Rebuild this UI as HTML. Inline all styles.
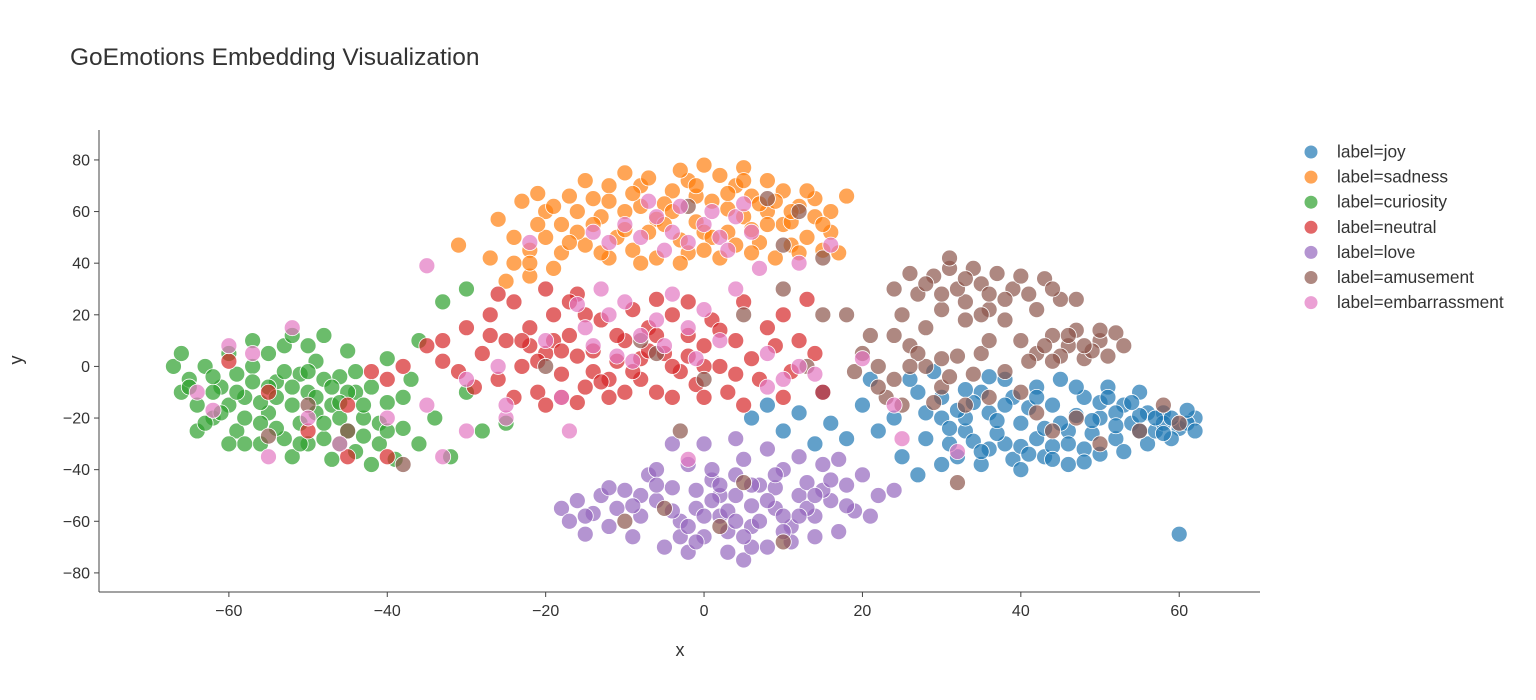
<!DOCTYPE html>
<html><head><meta charset="utf-8"><style>
body{margin:0;background:#fff;font-family:"Liberation Sans",Arial,sans-serif;}
svg text{font-family:"Liberation Sans",Arial,sans-serif;fill:#2a3f5f;}
</style></head><body>
<svg id="chart" width="1536" height="695">
<rect width="1536" height="695" fill="#fff"/>
<text x="70" y="65" font-size="24.5" fill="#333" style="fill:#333">GoEmotions Embedding Visualization</text>
<g id="plot"></g>
<g id="axes"></g>
<g id="legend"></g>
<text x="680" y="656" font-size="18" text-anchor="middle" style="fill:#333">x</text>
<text x="22" y="360" font-size="18" text-anchor="middle" transform="rotate(-90 22 360)" style="fill:#333">y</text>
</svg>
<script>
const labels = ["joy","sadness","curiosity","neutral","love","amusement","embarrassment"];
const colors = ["#1f77b4","#ff7f0e","#2ca02c","#d62728","#9467bd","#8c564b","#e377c2"];
const xTicks = [-60,-40,-20,0,20,40,60];
const yTicks = [-80,-60,-40,-20,0,20,40,60,80];
const joy = [30,-20,33,-25,36,-18,38,-30,40,-22,42,-28,44,-15,46,-25,48,-32,50,-20,52,-28,54,-22,56,-30,58,-18,60,-24,62,-20,35,-10,38,-5,42,-8,45,-5,48,-12,51,-8,53,-15,55,-10,57,-25,59,-28,61,-22,32,-35,35,-38,39,-36,43,-35,46,-38,50,-34,53,-33,27,-10,28,-28,30,-38,31,-30,34,-14,37,-26,41,-16,44,-31,47,-19,49,-26,52,-18,55,-25,58,-22,24,-20,22,-25,20,-15,18,-28,16,-22,14,-30,12,-18,10,-25,8,-15,6,-20,25,-35,27,-42,26,-5,21,-5,15,-10,28,-18,29,-2,40,-40,60,-65,36,-32,45,-22,42,-12,39,-12,33,-20,50,-14,56,-18,
 31,-24,34,-29,37,-21,40,-31,43,-24,46,-30,49,-21,52,-23,55,-19,58,-26,61,-17,33,-9,36,-4,47,-8,54,-14,57,-20,44,-36,41,-34,38,-15,35,-33,48,-37,51,-12,59,-20,62,-25,30,-12,32,-17];
const sadness = [-24,40,-22,45,-20,50,-18,55,-16,60,-14,65,-12,70,-10,75,-8,62,-6,57,-4,68,-2,72,0,78,2,74,4,70,6,66,8,60,10,55,12,62,14,58,16,52,18,66,17,44,-20,60,-17,66,-13,58,-11,50,-9,45,-7,52,-5,63,-3,49,-1,56,1,64,3,52,5,58,7,48,9,42,11,47,13,50,15,45,-15,47,-19,38,-22,35,-25,33,-31,47,-27,42,-23,64,-21,67,-15,72,-8,70,-3,76,5,77,8,72,10,68,-6,42,-2,44,2,42,6,44,-12,42,-18,44,-14,55,-9,67,-1,66,3,61,7,63,11,56,14,65,-4,60,0,52,4,47,-16,52,-10,60,6,53,-26,57,-24,50,12,44,16,60,
 -21,55,-19,62,-17,48,-12,64,-10,53,-7,73,-5,55,-1,70,1,50,3,67,5,72,8,55,9,64,11,60,13,68,15,55,-13,44,-8,40,-3,40,0,45,-22,40];
const curiosity = [-67,0,-66,-10,-65,-5,-64,-15,-63,0,-62,-20,-61,-8,-60,5,-59,-25,-58,-12,-57,0,-56,-30,-55,-18,-54,-6,-53,8,-52,-35,-51,-22,-50,-10,-49,2,-48,-28,-47,-15,-46,-4,-45,6,-44,-33,-43,-20,-42,-8,-41,-30,-40,-14,-39,-36,-38,-24,-37,-5,-60,-15,-58,-30,-55,-8,-52,-15,-50,-30,-48,-5,-46,-20,-44,-10,-42,-38,-57,10,-55,5,-50,8,-62,-10,-64,-25,-60,-30,-53,-28,-47,-36,-45,-25,-43,-15,-56,-22,-54,-12,-51,-3,-49,-18,-47,-8,-59,-3,-61,-18,-65,-8,-63,-22,-53,-2,-58,-20,-46,-30,-41,-22,-38,-12,-36,-30,-34,-20,-32,-35,-30,-10,-33,25,-36,10,-30,30,-28,-25,-25,-22,-40,3,-48,12,-52,12,-66,5,
 -57,-6,-54,-24,-51,-30,-49,-12,-45,-10,-43,-27,-40,-25,-48,-22,-56,-14,-62,-4,-59,-10,-52,-8,-46,-14,-44,-2,-50,-2];
const neutral = [-35,8,-33,2,-31,-2,-30,15,-28,5,-27,20,-26,-5,-25,10,-24,25,-23,0,-22,15,-21,-10,-20,5,-19,20,-18,-3,-17,12,-16,28,-15,-8,-14,6,-13,18,-12,-12,-11,2,-10,10,-9,22,-8,-5,-7,15,-6,-10,-5,5,-4,20,-3,-2,-2,12,-1,-7,0,8,1,18,2,0,3,-10,4,10,5,25,6,3,7,-5,8,15,9,8,10,20,11,-2,12,10,13,26,14,5,15,-10,-29,-8,-24,-12,-20,-15,-16,-14,-12,-5,-8,3,-4,-12,0,-12,4,-3,-22,8,-18,-12,-14,-2,-10,-10,-6,26,-2,25,-17,25,-26,28,-33,10,-38,0,-40,-5,-42,-2,-45,-15,-50,-25,-55,-10,-60,2,-40,-35,-45,-35,-20,30,5,-15,10,-12,
 -21,2,-19,10,-16,4,-13,-6,-11,12,-9,-2,-7,6,-4,0,-2,4,0,0,2,14,-18,6,-23,10,-27,12,-15,20,-6,12];
const love = [-18,-55,-17,-60,-16,-52,-15,-65,-14,-57,-13,-50,-12,-62,-11,-55,-10,-48,-9,-66,-8,-58,-7,-42,-6,-52,-5,-70,-4,-47,-3,-60,-2,-38,-1,-55,0,-66,1,-44,2,-58,3,-72,4,-50,5,-36,6,-62,7,-46,8,-70,9,-55,10,-40,11,-62,12,-50,13,-45,14,-58,15,-38,16,-52,17,-64,18,-46,19,-56,20,-42,22,-50,24,-48,-4,-30,0,-30,4,-28,8,-32,-6,-40,-1,-48,3,-64,6,-54,9,-47,11,-68,13,-55,15,-48,5,-75,-2,-72,7,-60,10,-58,2,-50,-3,-66,-8,-50,-12,-47,-15,-58,0,-58,4,-42,12,-35,17,-36,21,-58,14,-66,1,-40,6,-70,
 -4,-56,-2,-62,1,-52,3,-56,5,-66,8,-52,10,-64,12,-58,14,-50,16,-44,18,-54,-6,-46,-9,-54,2,-46,6,-46,9,-42,-1,-68,4,-60];
const amusement = [25,20,27,28,29,35,31,38,33,25,35,32,37,36,39,30,41,28,43,34,45,26,47,26,30,22,32,30,34,38,36,22,38,18,40,35,42,22,28,15,24,30,26,36,31,42,36,28,44,30,33,18,40,10,42,5,44,12,46,8,48,3,50,10,52,13,53,8,47,14,45,4,43,8,49,6,51,4,41,2,20,5,22,0,24,-5,26,8,28,0,30,-8,32,4,34,-3,36,-12,23,-12,21,12,25,-15,27,5,19,-2,29,-14,33,-15,35,5,38,-2,36,10,40,-10,42,-18,44,-25,47,-20,50,-30,55,-25,58,-15,60,-22,-5,-55,2,-62,10,-68,-10,-60,5,-45,-45,-25,-50,-15,-38,-38,-55,-27,5,20,10,30,15,20,13,0,0,-5,-20,0,-8,10,15,42,18,20,12,60,8,65,-2,62,10,47,-6,5,-3,-25,32,-45,
 28,32,33,34,38,26,35,20,30,28,24,12,26,0,30,3,31,-4,22,-8,46,12,48,8,50,14,44,2];
const embarrassment = [-10,55,-8,50,-6,58,-4,52,-2,48,0,55,2,50,4,58,6,52,-12,48,-14,52,-5,45,1,60,3,45,-7,64,-3,62,5,63,-15,15,-12,20,-10,25,-8,12,-6,18,-4,28,-2,15,0,22,2,10,4,30,-14,8,-11,4,-16,24,-13,30,-9,2,-5,8,-1,3,10,-5,12,0,14,-3,8,5,-18,-12,-25,-20,-30,-25,-35,-15,-40,-20,-46,-30,-52,15,-57,5,-60,8,-64,-10,-62,-17,-55,-35,-50,-20,-33,-35,-30,-5,-26,0,-20,10,-25,-15,-35,39,-22,48,16,47,12,40,7,38,20,3,24,-15,25,-28,32,-33,8,-8,-17,-25,-2,-36];
const series = [joy,sadness,curiosity,neutral,love,amusement,embarrassment];

const NS="http://www.w3.org/2000/svg";
const X0=99,X1=1260,Y0=130,Y1=592;
const xMin=-76.4,xMax=70.2,yMin=-87.4,yMax=91.6;
const sx=v=>X0+(v-xMin)/(xMax-xMin)*(X1-X0);
const sy=v=>Y1-(v-yMin)/(yMax-yMin)*(Y1-Y0);
function mk(tag,attrs,parent){const e=document.createElementNS(NS,tag);for(const k in attrs)e.setAttribute(k,attrs[k]);parent.appendChild(e);return e;}
const plot=document.getElementById('plot'),axes=document.getElementById('axes'),legend=document.getElementById('legend');

series.forEach((pts,si)=>{
  const g=mk('g',{},plot);
  
  
  for(let i=0;i<pts.length;i+=2){
    const c=mk('circle',{cx:sx(pts[i]),cy:sy(pts[i+1]),r:8,fill:colors[si],'fill-opacity':0.7,stroke:'#fff','stroke-width':0.8},g);
    
    
  }
});

const xl=mk('line',{x1:X0,y1:Y1,x2:X1,y2:Y1,stroke:'#444','stroke-width':1},axes);


const yl=mk('line',{x1:X0,y1:Y0,x2:X0,y2:Y1,stroke:'#444','stroke-width':1},axes);


xTicks.forEach(t=>{
  const x=sx(t);
  mk('line',{x1:x,y1:Y1,x2:x,y2:Y1+5,stroke:'#444'},axes);
  const tx=mk('text',{x:x,y:Y1+24,'font-size':16,'text-anchor':'middle',style:'fill:#333'},axes);
  tx.textContent=t<0?'\u2212'+Math.abs(t):String(t);
  
  
});
yTicks.forEach(t=>{
  const y=sy(t);
  mk('line',{x1:X0-5,y1:y,x2:X0,y2:y,stroke:'#444'},axes);
  const tx=mk('text',{x:X0-9,y:y+5.5,'font-size':16,'text-anchor':'end',style:'fill:#333'},axes);
  tx.textContent=t<0?'\u2212'+Math.abs(t):String(t);
  
  
});
labels.forEach((l,i)=>{
  const y=152+i*25.1;
  const g=mk('g',{},legend);
  
  
  mk('circle',{cx:1311,cy:y,r:6.5,fill:colors[i],'fill-opacity':0.7},g);
  const t=mk('text',{x:1337,y:y+5.5,'font-size':17.3,style:'fill:#333'},g);
  t.textContent='label='+l;
});
</script>
</body></html>
